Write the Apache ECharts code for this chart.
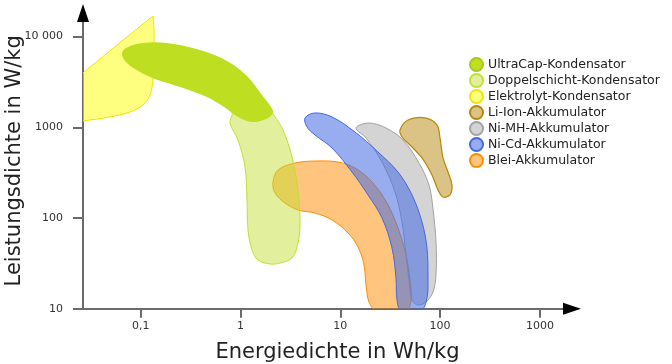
<!DOCTYPE html>
<html><head><meta charset="utf-8">
<script src="https://cdn.jsdelivr.net/npm/echarts@6/dist/echarts.min.js"></script>
<style>html,body{margin:0;padding:0;background:#fff}#c{width:672px;height:364px}</style>
</head><body><div id="c"></div>
<script>
// Axis ticks
const xTicks = [0.1, 1, 10, 100, 1000];
const xTickLabels = ['0,1', '1', '10', '100', '1000'];
const yTicks = [10, 100, 1000, 10000];
const yTickLabels = ['10', '100', '1000', '10 000'];

// Region outlines: [energy density Wh/kg, power density W/kg]
const ultraCap = [[0.065,6592],[0.0746,7674],[0.1055,8490],[0.1834,8490],[0.3928,7112],[0.732,5383],[1.162,3681],[1.642,2270],[2.021,1675],[2.117,1439],[1.801,1236],[1.304,1143],[0.944,1300],[0.6834,1675],[0.4617,2158],[0.2475,2782],[0.1391,3411],[0.0984,4074],[0.0712,5248]];
const doppelschicht = [[0.156,5248],[0.3928,4864],[0.9885,2925],[1.642,2000],[2.217,1300],[2.667,933],[3.281,471],[3.77,203.7],[3.947,88.2],[3.77,53.0],[3.281,36.2],[2.488,31.9],[1.975,31.1],[1.497,34.4],[1.304,44.4],[1.189,73.8],[1.162,157.8],[1.11,365],[0.944,724],[0.785,1114],[0.822,1476],[0.555,2270],[0.278,3500]];
const elektrolyt = [[0.021,1130],[0.021,1130],[0.021,3236],[0.021,3236],[0.0391,5662],[0.0729,9908],[0.1328,16870],[0.1328,16870],[0.1359,11830],[0.1359,5521],[0.1328,3327],[0.124,2270],[0.1055,1762],[0.0781,1476],[0.0492,1300],[0.031,1203]];
const liIon = [[39.65,933],[47.7,1203],[70.6,1268],[93.1,1059],[99.8,762],[106.9,459],[120,321],[131.6,231],[125.7,179.5],[106.9,170.6],[95.3,203.7],[82.9,297.8],[65.87,459],[49.93,638],[41.52,782]];
const niMH = [[14.37,982],[19.4,1114],[28.71,982],[42.49,724],[61.46,403.6],[77.4,231],[84.9,125.6],[91.0,54.3],[91.0,23.55],[84.9,15.27],[72.2,11.85],[60.06,10.98],[52.3,12.47],[48.8,20.7],[45.53,39.1],[41.52,90.3],[35.33,193.6],[26.17,414],[18.1,762]];
const niCd = [[4.43,1268],[5.58,1439],[8.26,1300],[14.04,887],[23.86,534],[37.86,321],[52.3,179.5],[65.87,90.3],[73.9,46.7],[75.6,21.8],[73.9,13.12],[64.4,9.5],[40.57,9.5],[37.0,12.47],[36.15,21.8],[32.96,46.7],[26.17,100],[18.95,179.5],[13.1,321],[8.26,591],[5.58,822],[4.64,1007]];
const blei = [[2.117,249.6],[2.376,338],[3.517,403.6],[5.58,424.7],[9.48,414],[14.04,355.6],[20.78,249.6],[29.37,146.2],[37.86,77.6],[45.53,39.1],[49.93,20.7],[51.1,12.47],[46,9.5],[23,9.5],[19.4,11.85],[18.1,18.24],[17.28,30.3],[15.05,47.9],[11.95,68.4],[8.26,95.1],[5.58,113.5],[3.77,122.5],[2.792,146.2],[2.217,188.8]];

const legendOrder = ['UltraCap-Kondensator','Doppelschicht-Kondensator','Elektrolyt-Kondensator','Li-Ion-Akkumulator','Ni-MH-Akkumulator','Ni-Cd-Akkumulator','Blei-Akkumulator'];

const FONT = 'DejaVu Sans';

function region(name, pts, fill, stroke, lw, legendBorder) {
  return {
    type: 'custom', name: name, clip: true, silent: true,
    coordinateSystem: 'cartesian2d', xAxisIndex: 0, yAxisIndex: 0,
    data: pts, encode: {x: 0, y: 1},
    itemStyle: {color: fill, borderColor: legendBorder || stroke, borderWidth: 1},
    renderItem: function (params, api) {
      if (params.dataIndex !== 0) return null;
      const points = pts.map(function (p) { return api.coord(p); });
      return {
        type: 'polygon',
        shape: {points: points, smooth: 0.35},
        style: {fill: fill, stroke: stroke, lineWidth: lw}
      };
    }
  };
}

function labelFrom(ticks, labels) {
  return function (v) {
    for (let i = 0; i < ticks.length; i++) {
      if (Math.abs(Math.log10(v) - Math.log10(ticks[i])) < 1e-6) return labels[i];
    }
    return '';
  };
}

const AXIS_COLOR = '#6b6b6b';
const xMin = 0.0264, xMax = 2098, yMin = 10, yMax = 18200;

const chart = echarts.init(document.getElementById('c'), null, {renderer: 'canvas'});
chart.setOption({
  animation: false,
  backgroundColor: '#fff',
  grid: {left: 83, right: 100, top: 13, bottom: 55.3, containLabel: false, outerBoundsMode: 'none'},
  legend: {
    orient: 'vertical', left: 464, top: 52, icon: 'circle',
    itemWidth: 13, itemHeight: 13, itemGap: 1,
    data: legendOrder,
    textStyle: {fontFamily: FONT, fontSize: 12.5, color: '#222'}
  },
  xAxis: [{
    type: 'log', logBase: 10, min: xMin, max: xMax,
    axisLine: {show: true, onZero: false, lineStyle: {color: AXIS_COLOR, width: 2}},
    axisTick: {show: true, length: 9, lineStyle: {color: AXIS_COLOR, width: 2}, customValues: xTicks},
    axisLabel: {show: true, customValues: xTicks, formatter: labelFrom(xTicks, xTickLabels), margin: 12,
      color: '#333', fontSize: 11, fontFamily: FONT},
    splitLine: {show: false}, minorTick: {show: false},
    name: 'Energiedichte in Wh/kg', nameLocation: 'middle', nameGap: 33, nameMoveOverlap: false,
    nameTextStyle: {fontFamily: FONT, fontSize: 21, color: '#222', padding: [0, 0, 0, 20]}
  }, {
    type: 'log', logBase: 10, min: xMin, max: xMax, position: 'bottom',
    axisLine: {show: true, onZero: false, lineStyle: {color: '#000', width: 0}, symbol: ['none', 'triangle'], symbolSize: [12, 18]},
    axisTick: {show: false}, axisLabel: {show: false}, splitLine: {show: false}
  }],
  yAxis: [{
    type: 'log', logBase: 10, min: yMin, max: yMax,
    axisLine: {show: true, onZero: false, lineStyle: {color: AXIS_COLOR, width: 2}},
    axisTick: {show: true, length: 10, lineStyle: {color: AXIS_COLOR, width: 2}, customValues: yTicks},
    axisLabel: {show: true, customValues: yTicks, formatter: labelFrom(yTicks, yTickLabels), margin: 20,
      color: '#333', fontSize: 11, fontFamily: FONT},
    splitLine: {show: false}, minorTick: {show: false},
    name: 'Leistungsdichte in W/kg', nameLocation: 'middle', nameGap: 58, nameRotate: 90, nameMoveOverlap: false,
    nameTextStyle: {fontFamily: FONT, fontSize: 21, color: '#222'}
  }, {
    type: 'log', logBase: 10, min: yMin, max: yMax, position: 'left',
    axisLine: {show: true, onZero: false, lineStyle: {color: '#000', width: 0}, symbol: ['none', 'triangle'], symbolSize: [12, 18]},
    axisTick: {show: false}, axisLabel: {show: false}, splitLine: {show: false}
  }],
  series: [
    region('Elektrolyt-Kondensator', elektrolyt, 'rgba(255,255,0,0.5)', '#f2e400', 1),
    region('Blei-Akkumulator', blei, 'rgba(255,140,0,0.5)', '#ff8c00', 1),
    region('Doppelschicht-Kondensator', doppelschicht, 'rgba(190,222,40,0.45)', '#c2df33', 1),
    region('Ni-MH-Akkumulator', niMH, 'rgba(160,160,160,0.45)', '#a3a3a3', 1),
    region('Ni-Cd-Akkumulator', niCd, 'rgba(65,105,225,0.55)', '#4169e1', 1),
    region('Li-Ion-Akkumulator', liIon, 'rgba(184,134,11,0.5)', '#b8860b', 1.2),
    region('UltraCap-Kondensator', ultraCap, '#bede22', 'rgba(0,0,0,0)', 0, '#a8c81c')
  ]
});
</script>
</body></html>
